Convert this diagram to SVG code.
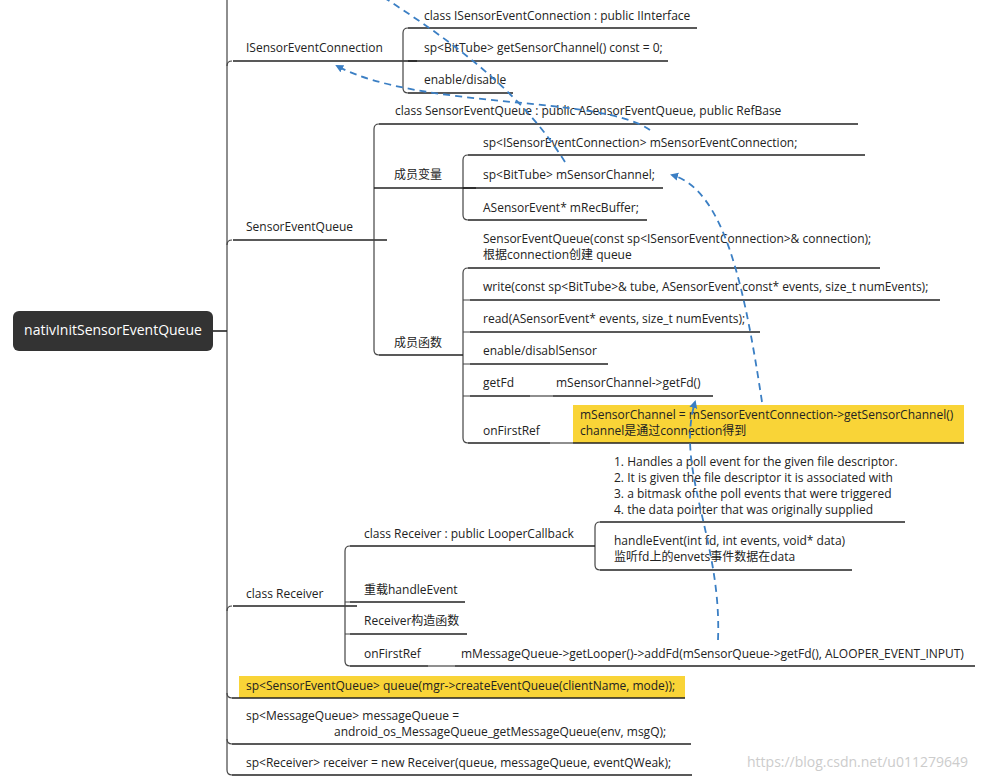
<svg xmlns="http://www.w3.org/2000/svg" width="990" height="780" viewBox="0 0 990 780">
<style>
text{font-family:"Open Sans","Noto Sans CJK SC",sans-serif;font-size:12px;fill:#222}
.l{stroke:#222;stroke-width:1.6;fill:none}
.s{stroke:#444;stroke-width:1.2;fill:none}
.d{stroke:#3B7FC4;stroke-width:1.8;fill:none;stroke-dasharray:7 5}
.y{fill:#F9D437}
</style>
<defs><marker id="a" markerWidth="10" markerHeight="10" refX="6" refY="5" orient="auto" markerUnits="userSpaceOnUse"><path d="M0,1 L8,5 L0,9 Z" fill="#3B7FC4"/></marker></defs>
<rect width="990" height="780" fill="#fff"/>
<g id="structure">
<path class="s" d="M227,0 V770 Q227,775 232,775"/>
<path class="l" d="M213,331 H227"/>
<path class="s" d="M227,66 Q227,61 232,61"/><path class="l" d="M233,61 H417"/>
<path class="s" d="M227,245 Q227,240 232,240"/><path class="l" d="M233,240 H387"/>
<path class="s" d="M227,611 Q227,606 232,606"/><path class="l" d="M233,606 H357"/>
<path class="s" d="M227,693 Q227,698 232,698"/>
<path class="s" d="M227,739 Q227,744 232,744"/>
<path class="s" d="M403,33 Q403,28 408,28 M403,33 V88 Q403,93 408,93"/>
<path class="s" d="M374,129 Q374,124 379,124 M374,129 V350 Q374,355 379,355"/>
<path class="s" d="M463,160 Q463,155 468,155 M463,160 V215 Q463,220 468,220"/>
<path class="s" d="M463,273 Q463,268 468,268 M463,273 V438 Q463,443 468,443 M463,300 H470 M463,332 H470 M463,364 H470 M463,396 H470"/>
<path class="s" d="M345,551 Q345,546 350,546 M345,551 V661 Q345,666 350,666 M345,602 H350 M345,634 H350"/>
<path class="s" d="M595,527 Q595,522 600,522 M595,527 V565 Q595,570 600,570"/>
</g>
<g id="root"><rect x="13" y="311" width="200" height="40" rx="6" fill="#333"/><text x="113" y="335" text-anchor="middle" style="fill:#fff;font-size:14px">nativInitSensorEventQueue</text></g>
<g id="n-isec"><text x="246" y="52">ISensorEventConnection</text>
<text x="424" y="20">class ISensorEventConnection : public IInterface</text><path class="l" d="M408,28 H697"/>
<text x="424" y="52">sp&lt;BitTube&gt; getSensorChannel() const = 0;</text><path class="l" d="M408,61 H668"/>
<text x="424" y="84">enable/disable</text><path class="l" d="M408,93 H513"/></g>
<g id="n-seq"><text x="246" y="231">SensorEventQueue</text>
<text x="395" y="115">class SensorEventQueue : public ASensorEventQueue, public RefBase</text><path class="l" d="M379,124 H858"/>
<text x="394" y="179">成员变量</text><path class="l" d="M374,188 H476"/>
<text x="394" y="347">成员函数</text><path class="l" d="M379,355 H463"/>
<text x="483" y="147">sp&lt;ISensorEventConnection&gt; mSensorEventConnection;</text><path class="l" d="M468,155 H865"/>
<text x="483" y="179">sp&lt;BitTube&gt; mSensorChannel;</text><path class="l" d="M463,188 H663"/>
<text x="483" y="212">ASensorEvent* mRecBuffer;</text><path class="l" d="M468,220 H647"/>
<text x="483" y="243">SensorEventQueue(const sp&lt;ISensorEventConnection&gt;&amp; connection);</text>
<text x="483" y="259">根据connection创建 queue</text><path class="l" d="M468,268 H880"/>
<text x="483" y="291">write(const sp&lt;BitTube&gt;&amp; tube, ASensorEvent const* events, size_t numEvents);</text><path class="l" d="M470,300 H940"/>
<text x="483" y="323">read(ASensorEvent* events, size_t numEvents);</text><path class="l" d="M470,332 H760"/>
<text x="483" y="355">enable/disablSensor</text><path class="l" d="M470,364 H608"/>
<text x="483" y="387">getFd</text><path class="l" d="M470,396 H530"/><path class="s" d="M530,396 H553"/>
<text x="556" y="387">mSensorChannel-&gt;getFd()</text><path class="l" d="M553,396 H713"/>
<text x="483" y="435">onFirstRef</text><path class="l" d="M468,443 H550"/><path class="s" d="M550,443 H573"/>
<rect class="y" x="573" y="405" width="391" height="38"/>
<text x="580" y="419">mSensorChannel = mSensorEventConnection-&gt;getSensorChannel()</text>
<text x="580" y="435">channel是通过connection得到</text><path class="l" d="M573,443 H964"/></g>
<g id="n-recv"><text x="246" y="598">class Receiver</text>
<text x="364" y="538">class Receiver : public LooperCallback</text><path class="l" d="M350,546 H595"/>
<text x="614" y="466">1. Handles a poll event for the given file descriptor.</text>
<text x="614" y="482">2. It is given the file descriptor it is associated with</text>
<text x="614" y="498">3. a bitmask of the poll events that were triggered</text>
<text x="614" y="514">4. the data pointer that was originally supplied</text><path class="l" d="M600,522 H905"/>
<text x="614" y="545">handleEvent(int fd, int events, void* data)</text>
<text x="614" y="561">监听fd上的envets事件数据在data</text><path class="l" d="M600,570 H852"/>
<text x="364" y="594">重载handleEvent</text><path class="l" d="M350,602 H465"/>
<text x="364" y="625">Receiver构造函数</text><path class="l" d="M350,634 H467"/>
<text x="364" y="658">onFirstRef</text><path class="l" d="M350,666 H428"/><path class="s" d="M428,666 H455"/>
<text x="461" y="658">mMessageQueue-&gt;getLooper()-&gt;addFd(mSensorQueue-&gt;getFd(), ALOOPER_EVENT_INPUT)</text><path class="l" d="M455,666 H975"/></g>
<g id="n-queue"><rect class="y" x="239" y="676" width="446" height="22"/><text x="246" y="690">sp&lt;SensorEventQueue&gt; queue(mgr-&gt;createEventQueue(clientName, mode));</text><path class="l" d="M232,698 H685"/></g>
<g id="n-mq"><text x="246" y="720">sp&lt;MessageQueue&gt; messageQueue =</text><text x="334" y="736">android_os_MessageQueue_getMessageQueue(env, msgQ);</text><path class="l" d="M232,744 H691"/></g>
<g id="n-rcv"><text x="246" y="767">sp&lt;Receiver&gt; receiver = new Receiver(queue, messageQueue, eventQWeak);</text><path class="l" d="M232,775 H692"/></g>
<g id="connectors">
<path class="d" d="M650,130 C600,95 420,110 337,66" marker-end="url(#a)"/>
<path class="d" d="M565,162 C520,90 450,40 380,-5"/>
<path class="d" d="M762,402 C745,290 725,190 672,175" marker-end="url(#a)"/>
<path class="d" d="M718,640 C722,540 675,470 695,402" marker-end="url(#a)"/>
</g>
<text x="747" y="767" style="fill:#ccc;font-size:14px">https://blog.csdn.net/u011279649</text>
</svg>
